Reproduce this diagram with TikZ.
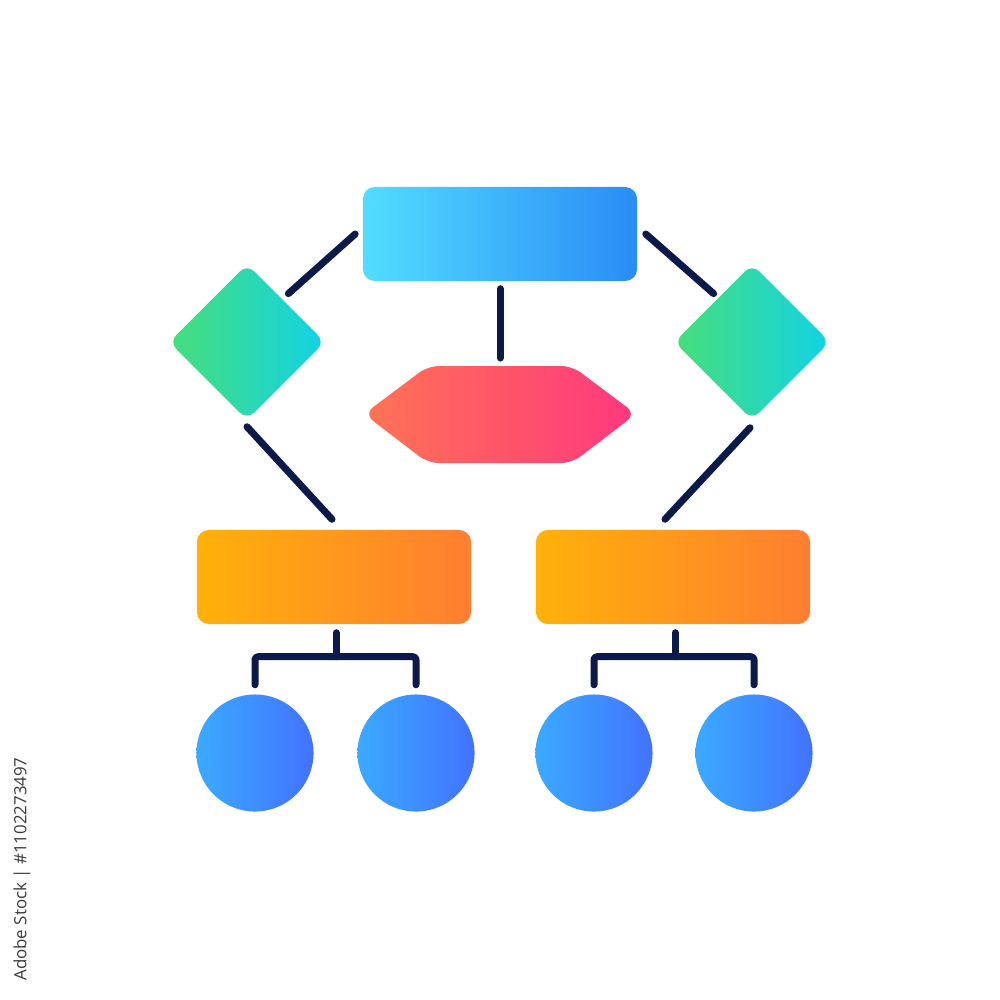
\documentclass[tikz,border=0pt]{standalone}
\usepackage{fontspec}
\setsansfont{Open Sans}
\usetikzlibrary{shapes.geometric,calc}
\definecolor{navy}{HTML}{0C1A4B}
\definecolor{topL}{HTML}{52DDFF}
\definecolor{topR}{HTML}{2A8CF6}
\definecolor{hexL}{HTML}{FF7455}
\definecolor{hexR}{HTML}{FF377F}
\definecolor{diaL}{HTML}{47DE7A}
\definecolor{diaR}{HTML}{12D3E6}
\definecolor{orL}{HTML}{FFB10A}
\definecolor{orR}{HTML}{FF7E32}
\definecolor{ciL}{HTML}{3BAAFF}
\definecolor{ciR}{HTML}{4272FF}
\definecolor{wm}{HTML}{3A3A3A}
\tikzset{
  conn/.style={draw=navy, line width=0.07cm, line cap=round, line join=round},
  topbox/.style={rectangle, rounded corners=0.12cm, minimum width=2.74cm, minimum height=0.94cm, inner sep=0pt, left color=topL, right color=topR},
  orbox/.style={rectangle, rounded corners=0.12cm, minimum width=2.74cm, minimum height=0.94cm, inner sep=0pt, left color=orL, right color=orR},
  dia/.style={diamond, rounded corners=0.1cm, minimum width=1.56cm, minimum height=1.56cm, inner sep=0pt, left color=diaL, right color=diaR},
  leaf/.style={circle, minimum size=1.17cm, inner sep=0pt, left color=ciL, right color=ciR},
}
\begin{document}
\begin{tikzpicture}[x=0.01cm, y=-0.01cm]
\useasboundingbox[fill=white] (0,0) rectangle (1000,1000);
% shapes
\node[topbox] (top) at (500,234) {};
\node[dia] (ldia) at (247,342) {};
\node[dia] (rdia) at (752,342) {};
\node[orbox] (lrect) at (334,577) {};
\node[orbox] (rrect) at (673,577) {};
\node[leaf] (c1) at (255,753) {};
\node[leaf] (c2) at (416,753) {};
\node[leaf] (c3) at (594,753) {};
\node[leaf] (c4) at (754,753) {};
% hexagon
\path[left color=hexL, right color=hexR, rounded corners=0.11cm]
  (428,366) -- (572,366) -- (636,414) -- (572,463) -- (428,463) -- (364,414) -- cycle;
\coordinate (hexn) at (500,366);
% connectors
\draw[conn] ($(top.west)+(-7,0)$) -- ($(ldia.north east)+(2,-9)$);
\draw[conn] ($(top.east)+(8,0)$) -- ($(rdia.north west)+(1,-9)$);
\draw[conn, shorten <=0.07cm, shorten >=0.08cm] (top.south) -- (hexn);
\draw[conn] ($(ldia.south)+(0,6)$) -- ($(lrect.north)+(-2,-10)$);
\draw[conn] ($(rdia.south)+(-2,7)$) -- ($(rrect.north)+(-8,-10)$);
% trees
\draw[conn] ($(lrect.south)+(2,8)$) -- ($(lrect.south)+(2,32)$);
\draw[conn, rounded corners=0.03cm] ($(c1.north)+(0,-9)$) |- ($(lrect.south)+(2,32)$) -| ($(c2.north)+(0,-9)$);
\draw[conn] ($(rrect.south)+(2,8)$) -- ($(rrect.south)+(2,32)$);
\draw[conn, rounded corners=0.03cm] ($(c3.north)+(0,-9)$) |- ($(rrect.south)+(2,32)$) -| ($(c4.north)+(0,-9)$);
% stock id
\node[rotate=90, text=wm, font=\sffamily\fontsize{4.8}{5}\selectfont, inner sep=0pt] (sid) at (22,869) {Adobe Stock | \#1102273497};
\end{tikzpicture}
\end{document}
